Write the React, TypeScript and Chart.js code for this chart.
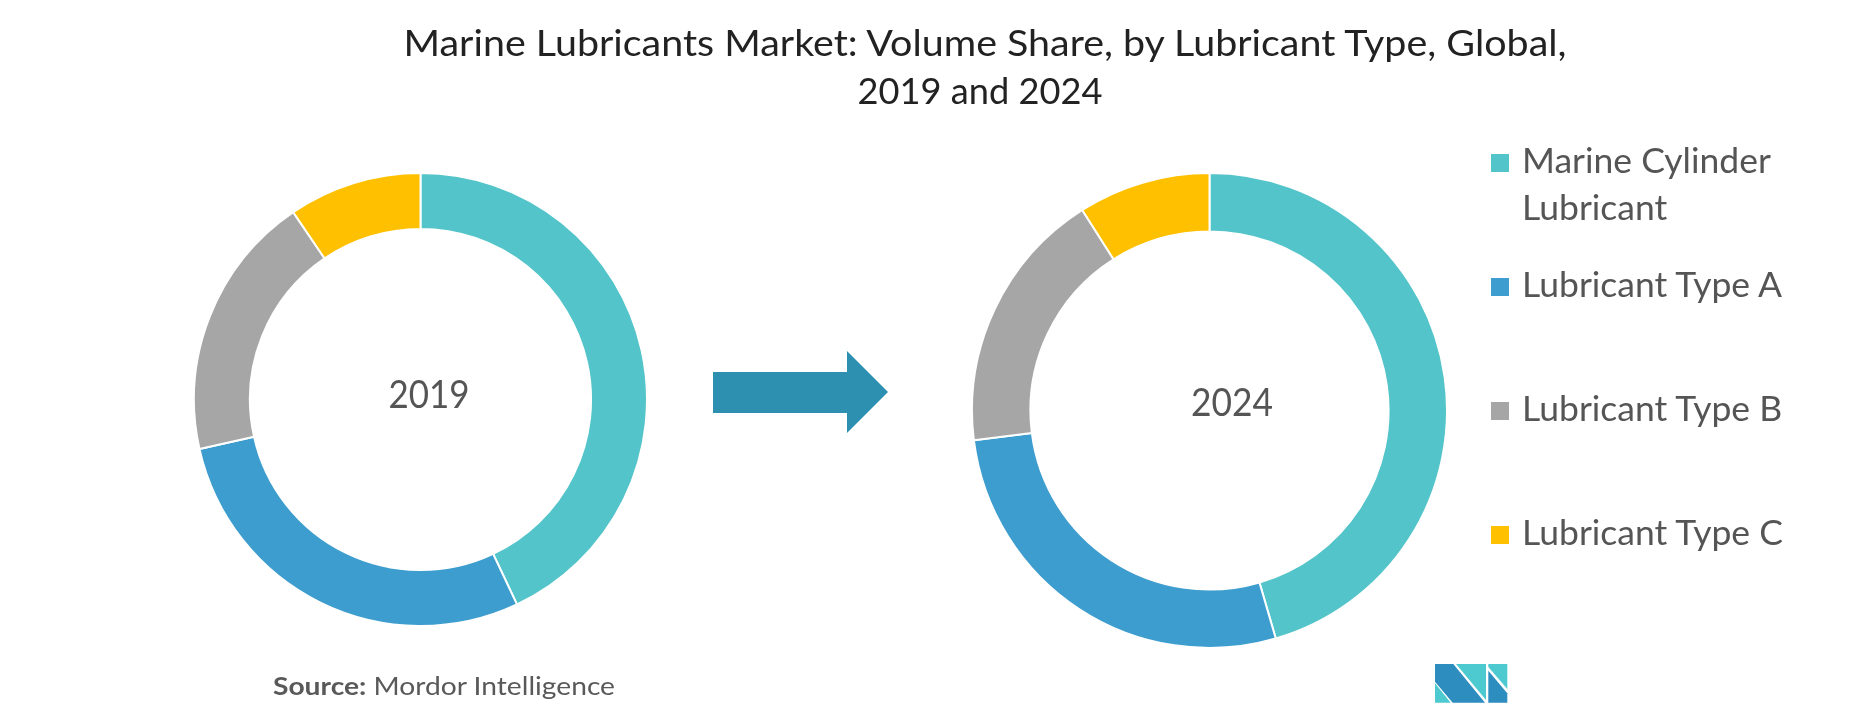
import React, { useEffect, useRef } from "react";
import { Chart, registerables } from "chart.js";

Chart.register(...registerables);

// ---- data ----
const categories = [
  "Marine Cylinder Lubricant",
  "Lubricant Type A",
  "Lubricant Type B",
  "Lubricant Type C",
];
const share2019 = [43, 28.5, 19, 9.5];
const share2024 = [45.5, 27.5, 18, 9];
const years = ["2019", "2024"];
const sliceColors = ["#53C4C9", "#3D9DCF", "#A6A6A6", "#FFC000"];
const titleLines = [
  "Marine Lubricants Market: Volume Share, by Lubricant Type, Global,",
  "2019 and 2024",
];
const legendLines = [
  ["Marine Cylinder", "Lubricant"],
  ["Lubricant Type A"],
  ["Lubricant Type B"],
  ["Lubricant Type C"],
];
const sourceBold = "Source:";
const sourceText = " Mordor Intelligence";

const FONT = "Lato, 'Open Sans', sans-serif";
const TEXT_GREY = "#555555";

function Donut(props: { values: number[]; left: number; top: number; size: number; cutout: string }) {
  const ref = useRef<HTMLCanvasElement>(null);
  useEffect(() => {
    const chart = new Chart(ref.current as HTMLCanvasElement, {
      type: "doughnut",
      data: {
        labels: categories,
        datasets: [
          {
            data: props.values,
            backgroundColor: sliceColors,
            borderColor: "#ffffff",
            borderWidth: 2,
            hoverBorderWidth: 2,
            hoverOffset: 0,
            offset: 0,
          },
        ],
      },
      options: {
        responsive: false,
        animation: false,
        events: [],
        cutout: props.cutout,
        layout: { padding: 0 },
        plugins: {
          legend: { display: false },
          tooltip: { enabled: false },
          title: { display: false },
        },
      },
    });
    return () => chart.destroy();
  }, []);
  return (
    <canvas
      ref={ref}
      width={props.size}
      height={props.size}
      style={{ position: "absolute", left: props.left, top: props.top, width: props.size, height: props.size }}
    />
  );
}

export default function App() {
  const legendBaselines = [[173, 220], [297], [421], [545]];
  const squareTops = [154, 278, 402, 526];
  return (
    <div
      style={{
        position: "absolute",
        left: 0,
        top: 0,
        width: 1852,
        height: 722,
        background: "#ffffff",
        overflow: "hidden",
        fontFamily: FONT,
      }}
    >
      <Donut values={share2019} left={193} top={172} size={455} cutout="75.3%" />
      <Donut values={share2024} left={971} top={172} size={477} cutout="75.4%" />
      <svg
        width={1852}
        height={722}
        style={{ position: "absolute", left: 0, top: 0, pointerEvents: "none" }}
      >
        {/* title */}
        <text x={985} y={56} textAnchor="middle" fontFamily={FONT} fontSize={36} fill="#222222" textLength={1163} lengthAdjust="spacingAndGlyphs">
          {titleLines[0]}
        </text>
        <text x={980} y={104} textAnchor="middle" fontFamily={FONT} fontSize={36} fill="#222222" textLength={245} lengthAdjust="spacingAndGlyphs">
          {titleLines[1]}
        </text>

        {/* center labels */}
        <text x={429} y={408} textAnchor="middle" fontFamily={FONT} fontSize={38} fill={TEXT_GREY} textLength={81} lengthAdjust="spacingAndGlyphs">
          {years[0]}
        </text>
        <text x={1232} y={416} textAnchor="middle" fontFamily={FONT} fontSize={39} fill={TEXT_GREY} textLength={82} lengthAdjust="spacingAndGlyphs">
          {years[1]}
        </text>

        {/* arrow */}
        <polygon
          points="713,372 847,372 847,351 888,392 847,433 847,413 713,413"
          fill="#2E90B0"
        />

        {/* legend */}
        {legendLines.map((lines, i) => (
          <g key={i}>
            <rect x={1491} y={squareTops[i]} width={18} height={18} fill={sliceColors[i]} />
            {lines.map((ln, j) => (
              <text key={j} x={1522} y={legendBaselines[i][j]} fontFamily={FONT} fontSize={35.5} fill={TEXT_GREY}>
                {ln}
              </text>
            ))}
          </g>
        ))}

        {/* source */}
        <text x={273} y={695} fontFamily={FONT} fontSize={25} fill="#595959" textLength={342} lengthAdjust="spacingAndGlyphs">
          <tspan fontWeight="bold">{sourceBold}</tspan>
          <tspan>{sourceText}</tspan>
        </text>

        {/* logo */}
        <g>
          <polygon points="1435,664 1453.3,664 1485,702.7 1452.7,702.7 1435,681.7" fill="#2D8DBF" />
          <polygon points="1435,683.3 1435,702.7 1450.7,702.7" fill="#4DC9D0" />
          <polygon points="1456,664 1486,664 1486,700" fill="#4DC9D0" />
          <polygon points="1488.3,664 1507.3,664 1507.3,689 1488.3,667" fill="#4DC9D0" />
          <polygon points="1488.3,670.7 1507.3,693.3 1507.3,702.7 1488.3,702.7" fill="#2D8DBF" />
        </g>
      </svg>
    </div>
  );
}
